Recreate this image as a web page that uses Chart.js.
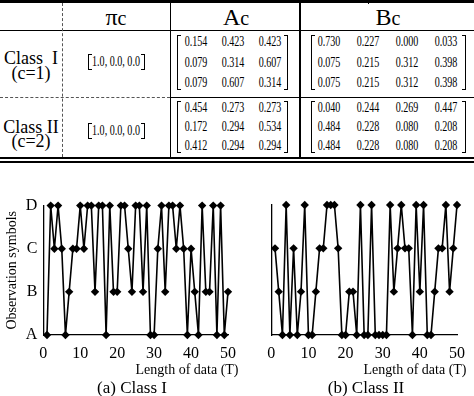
<!DOCTYPE html>
<html><head><meta charset="utf-8">
<script src="https://cdn.jsdelivr.net/npm/chart.js@4/dist/chart.umd.min.js"></script>
<style>
html,body{margin:0;padding:0}
body{width:474px;height:396px;background:#fff;position:relative;overflow:hidden;font-family:"Liberation Serif","Times New Roman",serif;color:#000}
.ln{position:absolute;background:#000}
.t{position:absolute;white-space:pre;line-height:1;transform:translate(-50%,-50%);color:#000}
.n{position:absolute;white-space:pre;line-height:1;font-size:14px;color:#000;transform:translate(-50%,-50%) scaleX(0.72)}
.br{position:absolute;border-top:1.5px solid #000;border-bottom:1.5px solid #000;width:4px;box-sizing:border-box}
.brl{border-left:1.6px solid #000}
.brr{border-right:1.6px solid #000}
canvas{position:absolute}
</style>
</head><body>
<canvas id="c1" width="245" height="180" style="left:0;top:190px"></canvas>
<canvas id="c2" width="234" height="180" style="left:240px;top:190px"></canvas>
<script>
// ---- data ----
const symbols = ['A','B','C','D'];
const xTickValues = [0,10,20,30,40,50];
const classISeq = ['A','D','C','D','C','A','B','C','C','D',
                   'C','D','D','B','D','D','A','D','B','B',
                   'D','D','C','B','D','D','B','D','A','A',
                   'C','D','B','D','D','C','D','C','A','C',
                   'B','A','D','B','B','D','A','D','A','B'];
const classIISeq = ['C','B','A','D','A','C','A','B','D','A',
                    'A','B','C','C','D','D','D','C','A','A',
                    'B','B','A','D','A','A','D','A','A','A',
                    'A','D','B','C','D','C','C','A','D','B',
                    'D','A','A','B','C','C','D','B','C','D'];
const headers = [['π','c'],['A','c'],['B','c']];
const rowLabels = [['Class  I','(c=1)'],['Class II','(c=2)']];
const piI = ['1.0','0.0','0.0'];
const piII = ['1.0','0.0','0.0'];
const AI = [['0.154','0.423','0.423'],['0.079','0.314','0.607'],['0.079','0.607','0.314']];
const BI = [['0.730','0.227','0.000','0.033'],['0.075','0.215','0.312','0.398'],['0.075','0.215','0.312','0.398']];
const AII = [['0.454','0.273','0.273'],['0.172','0.294','0.534'],['0.412','0.294','0.294']];
const BII = [['0.040','0.244','0.269','0.447'],['0.484','0.228','0.080','0.208'],['0.484','0.228','0.080','0.208']];
const xTitle = 'Length of data (T)';
const yTitle = 'Observation symbols';
const captions = ['(a) Class I','(b) Class II'];

// ---- table drawing ----
const B = document.body;
function el(cls, css, html){const d=document.createElement('div');d.className=cls;d.style.cssText=css;if(html!==undefined)d.innerHTML=html;B.appendChild(d);return d;}
function text(x,y,s,size,cls){const d=el(cls||'t','left:'+x+'px;top:'+y+'px;font-size:'+size+'px');d.textContent=s;return d;}
function bracketPair(x0,x1,top,h){
  el('br brl','left:'+x0+'px;top:'+top+'px;height:'+h+'px');
  el('br brr','left:'+(x1-4)+'px;top:'+top+'px;height:'+h+'px');
}
// rules
el('ln','left:0;top:0;width:474px;height:3px');
el('ln','left:368px;top:0;width:1px;height:4px');
el('ln','left:0;top:30px;width:474px;height:1px');
el('','position:absolute;left:62px;top:3px;height:154px;border-left:1px dashed #555');
el('ln','left:170px;top:3px;width:1px;height:154px');
el('ln','left:299px;top:0;width:2px;height:157px');
el('','position:absolute;left:0;top:97px;width:170px;border-top:1px dashed #555');
el('ln','left:170px;top:97px;width:304px;height:1px');
el('ln','left:0;top:157px;width:474px;height:2px');
el('ln','left:0;top:161px;width:474px;height:2px');
// headers
const hx=[116,236,388];
headers.forEach((h,i)=>{el('t','left:'+hx[i]+'px;top:17px;font-size:24px','<span>'+h[0]+'</span><span style="font-size:20px">'+h[1]+'</span>');});
// row labels
const rowY=[[58,73],[127,141]];
rowLabels.forEach((r,i)=>{text(31,rowY[i][0],r[0],18);text(31,rowY[i][1],r[1],18);});
// pi vectors
function piVec(vals,cy){
  text(116,cy,vals.join(', '),14,'n');
  bracketPair(88,145,cy-8,16);
}
piVec(piI,62);piVec(piII,131);
function matrix(M,cols,rows,bx0,bx1){
  M.forEach((r,i)=>r.forEach((v,j)=>text(cols[j],rows[i],v,14,'n')));
  const top=rows[0]-7,h=rows[rows.length-1]-rows[0]+14;
  bracketPair(bx0,bx1,top,h);
}
const aCols=[196,233,270], bCols=[329,368,407,446];
matrix(AI,aCols,[42,63,83],177,288);
matrix(AII,aCols,[108,127,146],177,288);
matrix(BI,bCols,[42,63,83],311,466);
matrix(BII,bCols,[108,127,146],311,466);
// axis titles and captions
text(187,370,xTitle,14);
text(415,370,xTitle,14);
text(132,387,captions[0],17);
text(366,387,captions[1],17);

// ---- charts ----
const serif='"Liberation Serif","Times New Roman",serif';
function makeChart(id,seq,o){
  const pts=seq.map((s,i)=>({x:i+1,y:symbols.indexOf(s)}));
  return new Chart(document.getElementById(id),{
    type:'line',
    data:{datasets:[{data:pts,borderColor:'#000',backgroundColor:'#000',borderWidth:1.6,
      pointStyle:'rectRot',pointRadius:4.2,pointBorderWidth:0,pointBackgroundColor:'#000',tension:0,clip:false}]},
    options:{responsive:false,animation:false,devicePixelRatio:1,
      layout:{padding:{top:15,right:o.padRight,left:0,bottom:0}},
      plugins:{legend:{display:false},tooltip:{enabled:false},title:{display:false}},
      scales:{
        x:{type:'linear',min:0,max:50,
          afterBuildTicks:s=>{s.ticks=xTickValues.map(v=>({value:v}));},
          ticks:{autoSkip:false,maxRotation:0,padding:9,color:'#000',font:{family:serif,size:16}},
          grid:{display:false,drawTicks:false},border:{display:true,color:'#000',width:1.3},
          afterFit:s=>{s.height=35;}},
        y:{type:'linear',min:0,max:3,
          afterBuildTicks:s=>{s.ticks=symbols.map((_,i)=>({value:i}));},
          ticks:{display:o.showY,padding:6,color:'#000',font:{family:serif,size:16},callback:v=>symbols[v]},
          title:{display:o.showY,text:yTitle,color:'#000',font:{family:serif,size:14},padding:{top:4,bottom:0}},
          grid:{display:false,drawTicks:false},border:{display:true,color:'#000',width:1.3},
          afterFit:s=>{s.width=o.yWidth;}}
      }
    }
  });
}
makeChart('c1',classISeq,{padRight:11,yWidth:43.3,showY:true});
makeChart('c2',classIISeq,{padRight:13,yWidth:31.3,showY:false});
</script>
</body></html>
